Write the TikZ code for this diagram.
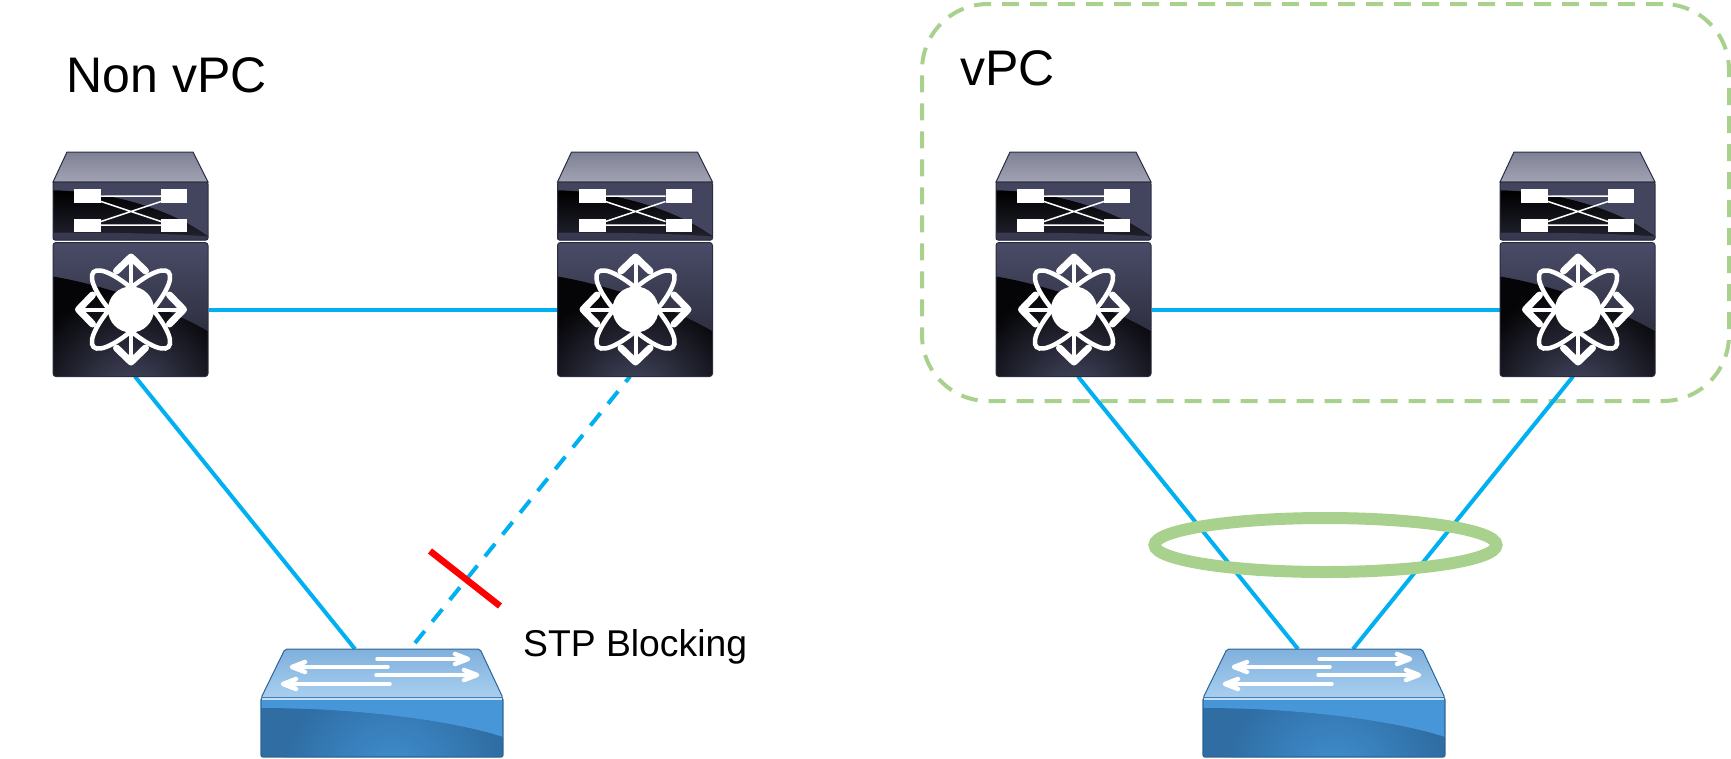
\documentclass[tikz,border=0pt]{standalone}
\usepackage{fontspec}
\setmainfont{Liberation Sans}
\usepackage{xcolor}
\usetikzlibrary{calc,shapes.geometric}
\definecolor{link_blue}{HTML}{00B0F0}
\definecolor{halo_green}{HTML}{A9D18E}
\definecolor{nexus_edge}{HTML}{2A2C40}
\definecolor{nexus_high}{HTML}{4A4C68}
\definecolor{nexus_low}{HTML}{22232F}
\definecolor{nexus_roof}{HTML}{A2A4B4}
\definecolor{nexus_roofb}{HTML}{7E8095}
\definecolor{access_edge}{HTML}{2A6597}
\definecolor{access_top}{HTML}{80B0DC}
\definecolor{access_topb}{HTML}{A8CFF0}
\definecolor{access_band}{HTML}{4796D8}
\definecolor{access_dark}{HTML}{2F6DA3}
\definecolor{access_light}{HTML}{4190D2}

\tikzset{
    device/.style={inner sep=0pt,outer sep=0pt},
    nexusnode/.style={device,minimum width=156pt,minimum height=134pt},
    accessnode/.style={device,minimum width=242pt,minimum height=108pt},
    link/.style={link_blue,line width=4pt},
    glyph/.style={white,line cap=round,line join=round},
    titre/.style={inner sep=0pt,anchor=base west,font=\fontsize{50}{51}\selectfont},
    nexus/.pic={
        % Toit et boitier du haut
        \draw[nexus_edge,line width=1pt,top color=nexus_roofb,bottom color=nexus_roof]
            (-64,-157.5) -- (62,-157.5) -- (77,-127.5) -- (-78,-127.5) -- cycle;
        \begin{scope}
            \clip[rounded corners=2pt] (-78,-127.5) rectangle (77,-69.5);
            \fill[nexus_high!90!black] (-78,-127.5) rectangle (77,-69.5);
            \fill[top color=black,bottom color=nexus_low] (-78,-119) .. controls (-20,-118) and (40,-100) .. (77,-73) -- (77,-69.5) -- (-78,-69.5) -- cycle;
            \fill[nexus_high!75!black] (-78,-77) .. controls (-20,-77) and (40,-76) .. (77,-73) -- (77,-69.5) -- (-78,-69.5) -- cycle;
        \end{scope}
        \draw[nexus_edge,line width=1pt,rounded corners=2pt] (-78,-127.5) rectangle (77,-69.5);
        \fill[white] (-57,-120.5) rectangle (-30,-106.5);
        \fill[white] (-57,-90.5) rectangle (-30,-77.5);
        \fill[white] (30,-120.5) rectangle (56,-106.5);
        \fill[white] (30,-90.5) rectangle (56,-77.5);
        \draw[white,line width=1.5pt] (-30,-113.5) -- (30,-113.5) (-30,-84.5) -- (30,-84.5)
            (-30,-108) -- (30,-88) (-30,-88) -- (30,-108);
        % Boitier du bas
        \begin{scope}
            \clip[rounded corners=3pt] (-78,-67) rectangle (77,67);
            \fill[top color=nexus_high,bottom color=nexus_low!70!nexus_high] (-78,-67) rectangle (77,22);
            \clip (-78,-33) .. controls (-30,-25) and (30,-5) .. (77,22) -- (77,67) -- (-78,67) -- cycle;
            \fill[black!85!nexus_low] (-78,-67) rectangle (77,67);
            \shade[inner color=nexus_high,outer color=black!85!nexus_low] (0,90) circle (110);
        \end{scope}
        \draw[nexus_edge,line width=1pt,rounded corners=3pt] (-78,-67) rectangle (77,67);
        % Logo
        \foreach \a in {45,-45} {
            \draw[white,line width=4.5pt,rotate=\a] (0,0) ellipse [x radius=53,y radius=16];
        }
        \foreach \a in {0,90,180,270} {
            \draw[glyph,rotate=\a,line width=7pt] (-14.5,-38.5) -- (0,-52.5) -- (14.5,-38.5);
            \draw[glyph,rotate=\a,line width=4pt] (0,-50) -- (0,0);
        }
        \fill[white] (0,0) circle (23);
    },
    access/.pic={
        % Dessus et face avant
        \draw[access_edge,line width=1pt,rounded corners=2pt,top color=access_top,bottom color=access_topb]
            (-97,-54) -- (98,-54) -- (121,-5) -- (-121,-5) -- cycle;
        \begin{scope}
            \clip[rounded corners=2pt] (-121,-5) rectangle (121,54);
            \fill[access_band] (-121,-5) rectangle (121,54);
            \clip (-121,5) .. controls (-40,5) and (60,15) .. (121,34) -- (121,54) -- (-121,54) -- cycle;
            \fill[access_dark] (-121,-5) rectangle (121,54);
            \shade[inner color=access_light,outer color=access_dark] (10,75) circle (110);
        \end{scope}
        \draw[access_edge,line width=1.2pt,rounded corners=2pt] (-121,-5) rectangle (121,54);
        \draw[white!70!access_band,line width=1.5pt] (-120,-4) -- (120,-4);
        % Fleches
        \foreach \xa/\xb/\yy/\sens in {-5/86/-44/1,6/-90/-36/-1,-6/95/-28/1,8/-99/-19/-1} {
            \draw[glyph,line width=3.5pt] (\xa,\yy) -- (\xb,\yy);
            \draw[glyph,line width=4.5pt] (\xb-13*\sens,\yy-5) -- (\xb,\yy) -- (\xb-13*\sens,\yy+5);
        }
    }
}

\begin{document}
\begin{tikzpicture}[x=1pt,y=-1pt]
    \useasboundingbox (0,0) rectangle (1731,758);

    % Titres
    \node[titre] (nonvpc) at (66.5,92) {Non vPC};
    \node[titre] (vpc) at (960,85) {vPC};
    \node[inner sep=0pt,anchor=base west,font=\fontsize{37.3}{38}\selectfont] (stp) at (523,656) {STP Blocking};

    % Zone du vPC
    \node[draw=halo_green,line width=4pt,dash pattern=on 17pt off 11pt,rounded corners=66pt,
        minimum width=807pt,minimum height=397pt,inner sep=0pt] (domaine) at (1325.5,202.5) {};

    % Placer les equipements
    \node[nexusnode] (nexA) at (131,309.5) {};
    \node[nexusnode] (nexB) at (635.5,309.5) {};
    \node[nexusnode] (nexC) at (1074,309.5) {};
    \node[nexusnode] (nexD) at (1578,309.5) {};
    \node[accessnode] (accA) at (382,703) {};
    \node[accessnode] (accB) at (1324,703) {};

    % Dessiner les liens
    \draw[link] (nexA) -- (nexB);
    \draw[link] (nexC) -- (nexD);
    \draw[link] ([xshift=4pt]nexA.south) -- ([xshift=-27pt]accA.north);
    \draw[link,dash pattern=on 16pt off 12pt,dash phase=9pt] ([xshift=-5.5pt]nexB.south) -- ([xshift=33pt,yshift=6pt]accA.north);
    \draw[link] ([xshift=4pt]nexC.south) -- ([xshift=-26pt]accB.north);
    \draw[link] ([xshift=-5pt]nexD.south) -- ([xshift=29pt]accB.north);

    % Dessiner les equipements par-dessus
    \foreach \n in {nexA,nexB,nexC,nexD} {
        \pic at (\n) {nexus};
    }
    \foreach \n in {accA,accB} {
        \pic at (\n) {access};
    }

    % Blocage et agregation
    \coordinate (blocA) at (430,551);
    \coordinate (blocB) at (500,606);
    \draw[red,line width=6.5pt] (blocA) -- (blocB);
    \node[draw=halo_green,line width=12pt,ellipse,minimum width=342pt,minimum height=54pt,inner sep=0pt] (anneau) at (1325.5,545) {};
\end{tikzpicture}
\end{document}
